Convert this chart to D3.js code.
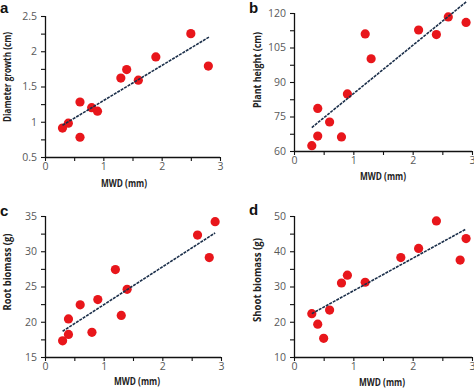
<!DOCTYPE html>
<html lang="en">
<head>
<meta charset="utf-8">
<title></title>
<script src="https://cdn.jsdelivr.net/npm/d3@7"></script>
<style>
  body { margin: 0; background: #fff; }
  .tick text { fill: #595959; font-family: "Open Sans", "Liberation Sans", sans-serif; font-size: 10.5px; }
  .ttl { font-family: "Open Sans", "Liberation Sans", sans-serif; font-weight: bold; font-size: 11px; fill: #222; }
  .lett { font-family: "Liberation Sans", sans-serif; font-weight: bold; font-size: 15px; fill: #111; }
</style>
</head>
<body>
<script>
var w = 474, h = 389;

// values
var mwdA = [0.3, 0.4, 0.6, 0.6, 0.8, 0.9, 1.3, 1.4, 1.6, 1.9, 2.5, 2.8];
var diamA = [0.91, 0.98, 1.28, 0.78, 1.2, 1.15, 1.62, 1.74, 1.59, 1.92, 2.25, 1.79];
var trendA = [[0.3, 0.95], [2.81, 2.2]];

var mwdB = [0.3, 0.4, 0.4, 0.6, 0.8, 0.9, 1.2, 1.3, 2.1, 2.4, 2.6, 2.9];
var heightB = [62.3, 66.5, 78.5, 72.6, 66.1, 84.8, 110.9, 100.1, 112.6, 110.6, 118.3, 115.9];
var trendB = [[0.3, 70.2], [2.91, 125]];

var mwdC = [0.3, 0.4, 0.4, 0.6, 0.8, 0.9, 1.2, 1.3, 1.4, 2.6, 2.8, 2.9];
var rootC = [17.3, 18.2, 20.4, 22.4, 18.5, 23.15, 27.4, 20.9, 24.6, 32.3, 29.1, 34.2];
var trendC = [[0.3, 18.65], [2.9, 32.6]];

var mwdD = [0.3, 0.4, 0.5, 0.6, 0.8, 0.9, 1.2, 1.8, 2.1, 2.4, 2.8, 2.9];
var shootD = [22.3, 19.3, 15.3, 23.3, 31.0, 33.2, 31.2, 38.2, 40.8, 48.6, 37.5, 43.6];
var trendD = [[0.3, 22.3], [2.9, 46.3]];

var xTicks = [0, 1, 2, 3];

var panels = [
  { letter: "a", x: mwdA, y: diamA, trend: trendA, yDom: [0.5, 2.5], yStep: 0.5, yLabel: "Diameter growth (cm)",
    px: [45, 220], py: [157, 16], letterPos: [0, 13], yT: [11, 77, 90], xT: [124, 187] },
  { letter: "b", x: mwdB, y: heightB, trend: trendB, yDom: [60, 120], yStep: 15, yLabel: "Plant height (cm)",
    px: [294, 472], py: [151, 13], letterPos: [249, 13], yT: [261, 70, 76], xT: [383, 180] },
  { letter: "c", x: mwdC, y: rootC, trend: trendC, yDom: [15, 35], yStep: 5, yLabel: "Root biomass (g)",
    px: [45, 221], py: [357, 216], letterPos: [0, 216], yT: [11, 272, 77], xT: [137, 385] },
  { letter: "d", x: mwdD, y: shootD, trend: trendD, yDom: [10, 50], yStep: 10, yLabel: "Shoot biomass (g)",
    px: [294, 472], py: [357, 216], letterPos: [249, 215], yT: [261, 280, 84], xT: [382, 386] }
];

var svg = d3.select("body").append("svg").attr("width", w).attr("height", h);

panels.forEach(function(p) {
  var xScale = d3.scaleLinear().domain([0, 3]).range(p.px);
  var yScale = d3.scaleLinear().domain(p.yDom).range(p.py);
  var g = svg.append("g");

  // ticks every half step, labels only on whole steps
  var yMinor = d3.range(p.yDom[0], p.yDom[1] + 1e-9, p.yStep / 2);
  var xMinor = d3.range(0, 3.0001, 0.5);

  var yAxis = d3.axisLeft(yScale).tickValues(yMinor).tickSize(4).tickPadding(4)
    .tickFormat(function(d) {
      var k = (d - p.yDom[0]) / p.yStep;
      return Math.abs(k - Math.round(k)) < 1e-6 ? d3.format("~g")(d) : "";
    });
  var xAxis = d3.axisBottom(xScale).tickValues(xMinor).tickSize(4).tickPadding(2)
    .tickFormat(function(d) { return xTicks.indexOf(d) >= 0 ? d : ""; });

  var ya = g.append("g").attr("transform", "translate(" + p.px[0] + ",0)").call(yAxis);
  var xa = g.append("g").attr("transform", "translate(0," + p.py[0] + ")").call(xAxis);
  [ya, xa].forEach(function(a) {
    a.select(".domain").attr("stroke", "#111").attr("stroke-width", 1.3);
    a.selectAll(".tick line").attr("stroke", "#111").attr("stroke-width", 1.1);
  });
  ya.select(".domain").attr("d", "M0.5," + p.py[1] + "V" + p.py[0]);
  xa.select(".domain").attr("d", "M" + p.px[0] + ",0.5H" + p.px[1]);

  // points
  g.selectAll("circle")
    .data(p.x.map(function(v, i) { return [v, p.y[i]]; }))
    .enter()
    .append("circle")
    .attr("cx", function(d) { return xScale(d[0]); })
    .attr("cy", function(d) { return yScale(d[1]); })
    .attr("r", 4.6)
    .attr("fill", "#e8161b");

  // trend line
  g.append("line")
    .attr("x1", xScale(p.trend[0][0])).attr("y1", yScale(p.trend[0][1]))
    .attr("x2", xScale(p.trend[1][0])).attr("y2", yScale(p.trend[1][1]))
    .attr("stroke", "#1b2f4a")
    .attr("stroke-width", 1.6)
    .attr("stroke-dasharray", "3,1");

  // titles
  g.append("text").attr("class", "ttl")
    .attr("x", p.xT[0])
    .attr("y", p.xT[1])
    .attr("text-anchor", "middle")
    .attr("textLength", 46).attr("lengthAdjust", "spacingAndGlyphs")
    .text("MWD (mm)");

  g.append("text").attr("class", "ttl")
    .attr("transform", "translate(" + p.yT[0] + "," + p.yT[1] + ") rotate(-90)")
    .attr("text-anchor", "middle")
    .attr("textLength", p.yT[2]).attr("lengthAdjust", "spacingAndGlyphs")
    .text(p.yLabel);

  g.append("text").attr("class", "lett")
    .attr("x", p.letterPos[0]).attr("y", p.letterPos[1])
    .text(p.letter);
});
</script>
</body>
</html>
